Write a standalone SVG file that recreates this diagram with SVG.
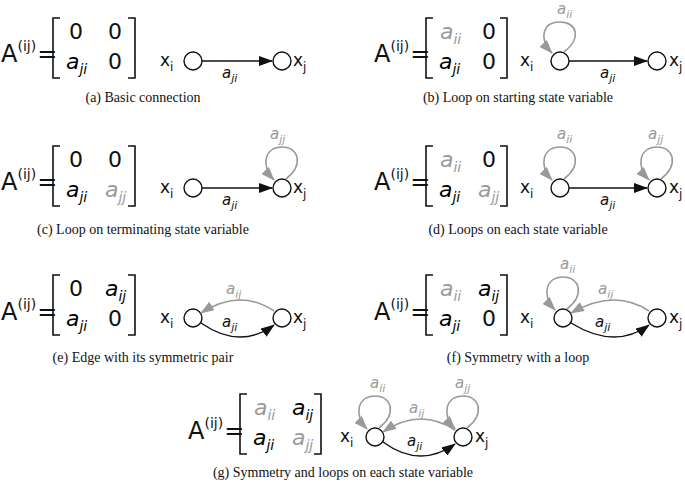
<svg xmlns="http://www.w3.org/2000/svg" width="685" height="482" viewBox="0 0 685 482">
<style>
.m{font-family:"DejaVu Sans",sans-serif;font-size:22px;fill:#111}
.A{font-family:"DejaVu Sans",sans-serif;font-size:24px;fill:#111}
.s{font-size:14px}
.a{font-family:"DejaVu Sans",sans-serif;font-style:italic;font-size:22px}
.g{fill:#999}
.x{font-family:"DejaVu Sans",sans-serif;font-size:17px;fill:#111}
.l{font-family:"DejaVu Sans",sans-serif;font-style:italic;font-size:15px;fill:#111}
.lg{fill:#999}
.cap{font-family:"Liberation Serif",serif;font-size:14px;fill:#111;text-anchor:middle}
.br{fill:none;stroke:#111;stroke-width:1.6}
.n{fill:#fff;stroke:#111;stroke-width:1.4}
.e{fill:none;stroke:#111;stroke-width:1.4;marker-end:url(#ab)}
.eg{fill:none;stroke:#999;stroke-width:1.6;marker-end:url(#ag)}
</style>
<defs>
<marker id="ab" markerWidth="14" markerHeight="10" refX="13" refY="5" orient="auto" markerUnits="userSpaceOnUse"><path d="M0,0 L14,5 L0,10 z" fill="#111"/></marker>
<marker id="ag" markerWidth="14" markerHeight="10" refX="13" refY="5" orient="auto" markerUnits="userSpaceOnUse"><path d="M0,0 L14,5 L0,10 z" fill="#999"/></marker>
</defs>

<g id="panel-a">
<text class="A" x="1" y="62">A<tspan class="s" dy="-11">(ij)</tspan><tspan dx="1" dy="11">=</tspan></text>
<path class="br" d="M60,18 H53 V78 H60 M128,18 H135 V78 H128"/>
<text class="m" x="69" y="39">0</text><text class="m" x="108" y="39">0</text>
<text class="a" x="66" y="69">a<tspan font-size="14" dy="5">ji</tspan></text><text class="m" x="108" y="69">0</text>
<text class="x" x="160" y="66">x<tspan font-size="12" dy="5">i</tspan></text>
<circle class="n" cx="193" cy="61" r="9"/><circle class="n" cx="282" cy="61" r="9"/>
<text class="x" x="293" y="66">x<tspan font-size="12" dy="5">j</tspan></text>
<text class="l" x="222" y="78">a<tspan font-size="11" dy="4">ji</tspan></text>
<text class="cap" x="143" y="102">(a)  Basic connection</text>
</g>

<g id="panel-b">
<text class="A" x="374" y="62">A<tspan class="s" dy="-11">(ij)</tspan><tspan dx="1" dy="11">=</tspan></text>
<path class="br" d="M433,18 H426 V78 H433 M500,18 H507 V78 H500"/>
<text class="a g" x="440" y="39">a<tspan font-size="14" dy="5">ii</tspan></text><text class="m" x="482" y="39">0</text>
<text class="a" x="439" y="69">a<tspan font-size="14" dy="5">ji</tspan></text><text class="m" x="482" y="69">0</text>
<text class="x" x="520" y="66">x<tspan font-size="12" dy="5">i</tspan></text>
<circle class="n" cx="560" cy="61" r="9"/><circle class="n" cx="657" cy="61" r="9"/>
<text class="x" x="669" y="66">x<tspan font-size="12" dy="5">j</tspan></text>
<text class="l" x="600" y="78">a<tspan font-size="11" dy="4">ji</tspan></text>
<text class="l lg" x="557" y="14">a<tspan font-size="11" dy="4">ii</tspan></text>
<text class="cap" x="518" y="102">(b)  Loop on starting state variable</text>
</g>

<g id="panel-c">
<text class="A" x="1" y="190">A<tspan class="s" dy="-11">(ij)</tspan><tspan dx="1" dy="11">=</tspan></text>
<path class="br" d="M60,146 H53 V206 H60 M128,146 H135 V206 H128"/>
<text class="m" x="69" y="167">0</text><text class="m" x="108" y="167">0</text>
<text class="a" x="66" y="197">a<tspan font-size="14" dy="5">ji</tspan></text><text class="a g" x="105" y="197">a<tspan font-size="14" dy="5">jj</tspan></text>
<text class="x" x="160" y="193">x<tspan font-size="12" dy="5">i</tspan></text>
<circle class="n" cx="193" cy="188" r="9"/><circle class="n" cx="282" cy="188" r="9"/>
<text class="x" x="293" y="193">x<tspan font-size="12" dy="5">j</tspan></text>
<text class="l" x="222" y="205">a<tspan font-size="11" dy="4">ji</tspan></text>
<text class="l lg" x="270" y="139">a<tspan font-size="11" dy="4">jj</tspan></text>
<text class="cap" x="143" y="234">(c)  Loop on terminating state variable</text>
</g>

<g id="panel-d">
<text class="A" x="374" y="190">A<tspan class="s" dy="-11">(ij)</tspan><tspan dx="1" dy="11">=</tspan></text>
<path class="br" d="M433,146 H426 V206 H433 M500,146 H507 V206 H500"/>
<text class="a g" x="440" y="167">a<tspan font-size="14" dy="5">ii</tspan></text><text class="m" x="482" y="167">0</text>
<text class="a" x="439" y="197">a<tspan font-size="14" dy="5">ji</tspan></text><text class="a g" x="478" y="197">a<tspan font-size="14" dy="5">jj</tspan></text>
<text class="x" x="520" y="193">x<tspan font-size="12" dy="5">i</tspan></text>
<circle class="n" cx="560" cy="188" r="9"/><circle class="n" cx="657" cy="188" r="9"/>
<text class="x" x="669" y="193">x<tspan font-size="12" dy="5">j</tspan></text>
<text class="l" x="600" y="205">a<tspan font-size="11" dy="4">ji</tspan></text>
<text class="l lg" x="557" y="139">a<tspan font-size="11" dy="4">ii</tspan></text>
<text class="l lg" x="648" y="139">a<tspan font-size="11" dy="4">jj</tspan></text>
<text class="cap" x="518" y="234">(d)  Loops on each state variable</text>
</g>

<g id="panel-e">
<text class="A" x="1" y="320">A<tspan class="s" dy="-11">(ij)</tspan><tspan dx="1" dy="11">=</tspan></text>
<path class="br" d="M60,275 H53 V335 H60 M128,275 H135 V335 H128"/>
<text class="m" x="69" y="296">0</text><text class="a" x="105" y="296">a<tspan font-size="14" dy="5">ij</tspan></text>
<text class="a" x="66" y="326">a<tspan font-size="14" dy="5">ji</tspan></text><text class="m" x="108" y="326">0</text>
<text class="x" x="160" y="323">x<tspan font-size="12" dy="5">i</tspan></text>
<circle class="n" cx="193" cy="318" r="9"/><circle class="n" cx="282" cy="318" r="9"/>
<text class="x" x="293" y="323">x<tspan font-size="12" dy="5">j</tspan></text>
<text class="l lg" x="226" y="294">a<tspan font-size="11" dy="4">ij</tspan></text>
<text class="l" x="222" y="327">a<tspan font-size="11" dy="4">ji</tspan></text>
<text class="cap" x="143" y="362">(e)  Edge with its symmetric pair</text>
</g>

<g id="panel-f">
<text class="A" x="374" y="320">A<tspan class="s" dy="-11">(ij)</tspan><tspan dx="1" dy="11">=</tspan></text>
<path class="br" d="M433,275 H426 V335 H433 M500,275 H507 V335 H500"/>
<text class="a g" x="440" y="296">a<tspan font-size="14" dy="5">ii</tspan></text><text class="a" x="478" y="296">a<tspan font-size="14" dy="5">ij</tspan></text>
<text class="a" x="439" y="326">a<tspan font-size="14" dy="5">ji</tspan></text><text class="m" x="482" y="326">0</text>
<text class="x" x="520" y="323">x<tspan font-size="12" dy="5">i</tspan></text>
<circle class="n" cx="563" cy="318" r="9"/><circle class="n" cx="657" cy="318" r="9"/>
<text class="x" x="669" y="323">x<tspan font-size="12" dy="5">j</tspan></text>
<text class="l lg" x="598" y="294">a<tspan font-size="11" dy="4">ij</tspan></text>
<text class="l" x="595" y="327">a<tspan font-size="11" dy="4">ji</tspan></text>
<text class="l lg" x="560" y="269">a<tspan font-size="11" dy="4">ii</tspan></text>
<text class="cap" x="518" y="362">(f)  Symmetry with a loop</text>
</g>

<g id="panel-g">
<text class="A" x="188" y="439">A<tspan class="s" dy="-11">(ij)</tspan><tspan dx="1" dy="11">=</tspan></text>
<path class="br" d="M247,394 H240 V454 H247 M314,394 H321 V454 H314"/>
<text class="a g" x="254" y="415">a<tspan font-size="14" dy="5">ii</tspan></text><text class="a" x="292" y="415">a<tspan font-size="14" dy="5">ij</tspan></text>
<text class="a" x="253" y="445">a<tspan font-size="14" dy="5">ji</tspan></text><text class="a g" x="292" y="445">a<tspan font-size="14" dy="5">jj</tspan></text>
<text class="x" x="340" y="442">x<tspan font-size="12" dy="5">i</tspan></text>
<circle class="n" cx="375" cy="437" r="9"/><circle class="n" cx="463" cy="437" r="9"/>
<text class="x" x="475" y="442">x<tspan font-size="12" dy="5">j</tspan></text>
<text class="l lg" x="409" y="413">a<tspan font-size="11" dy="4">ij</tspan></text>
<text class="l" x="407" y="446">a<tspan font-size="11" dy="4">ji</tspan></text>
<text class="l lg" x="370" y="388">a<tspan font-size="11" dy="4">ii</tspan></text>
<text class="l lg" x="455" y="388">a<tspan font-size="11" dy="4">jj</tspan></text>
<text class="cap" x="343" y="477">(g)  Symmetry and loops on each state variable</text>
</g>

<g id="connectors">
<path class="e" d="M202,61 H272"/>
<path class="e" d="M569,61 H647"/>
<path class="eg" d="M564,52 C582,38 577,22 560,22 C543,22 538,38 552,53"/>
<path class="e" d="M202,188 H272"/>
<path class="eg" d="M286,179 C304,165 299,147 282,147 C265,147 260,165 274,180"/>
<path class="e" d="M569,188 H647"/>
<path class="eg" d="M564,179 C582,165 577,147 560,147 C543,147 538,165 552,180"/>
<path class="eg" d="M661,179 C679,165 674,147 657,147 C640,147 635,165 649,180"/>
<path class="eg" d="M274,311 Q240,288 201,313"/>
<path class="e" d="M201,323 Q240,350 274,325"/>
<path class="eg" d="M567,309 C585,295 580,277 563,277 C546,277 541,295 555,310"/>
<path class="eg" d="M649,311 Q615,288 571,313"/>
<path class="e" d="M571,323 Q615,350 649,325"/>
<path class="eg" d="M379,428 C397,414 392,396 375,396 C358,396 353,414 367,429"/>
<path class="eg" d="M467,428 C485,414 480,396 463,396 C446,396 441,414 455,429"/>
<path class="eg" d="M455,430 Q420,407 383,432"/>
<path class="e" d="M383,442 Q420,469 455,444"/>
</g>
</svg>
